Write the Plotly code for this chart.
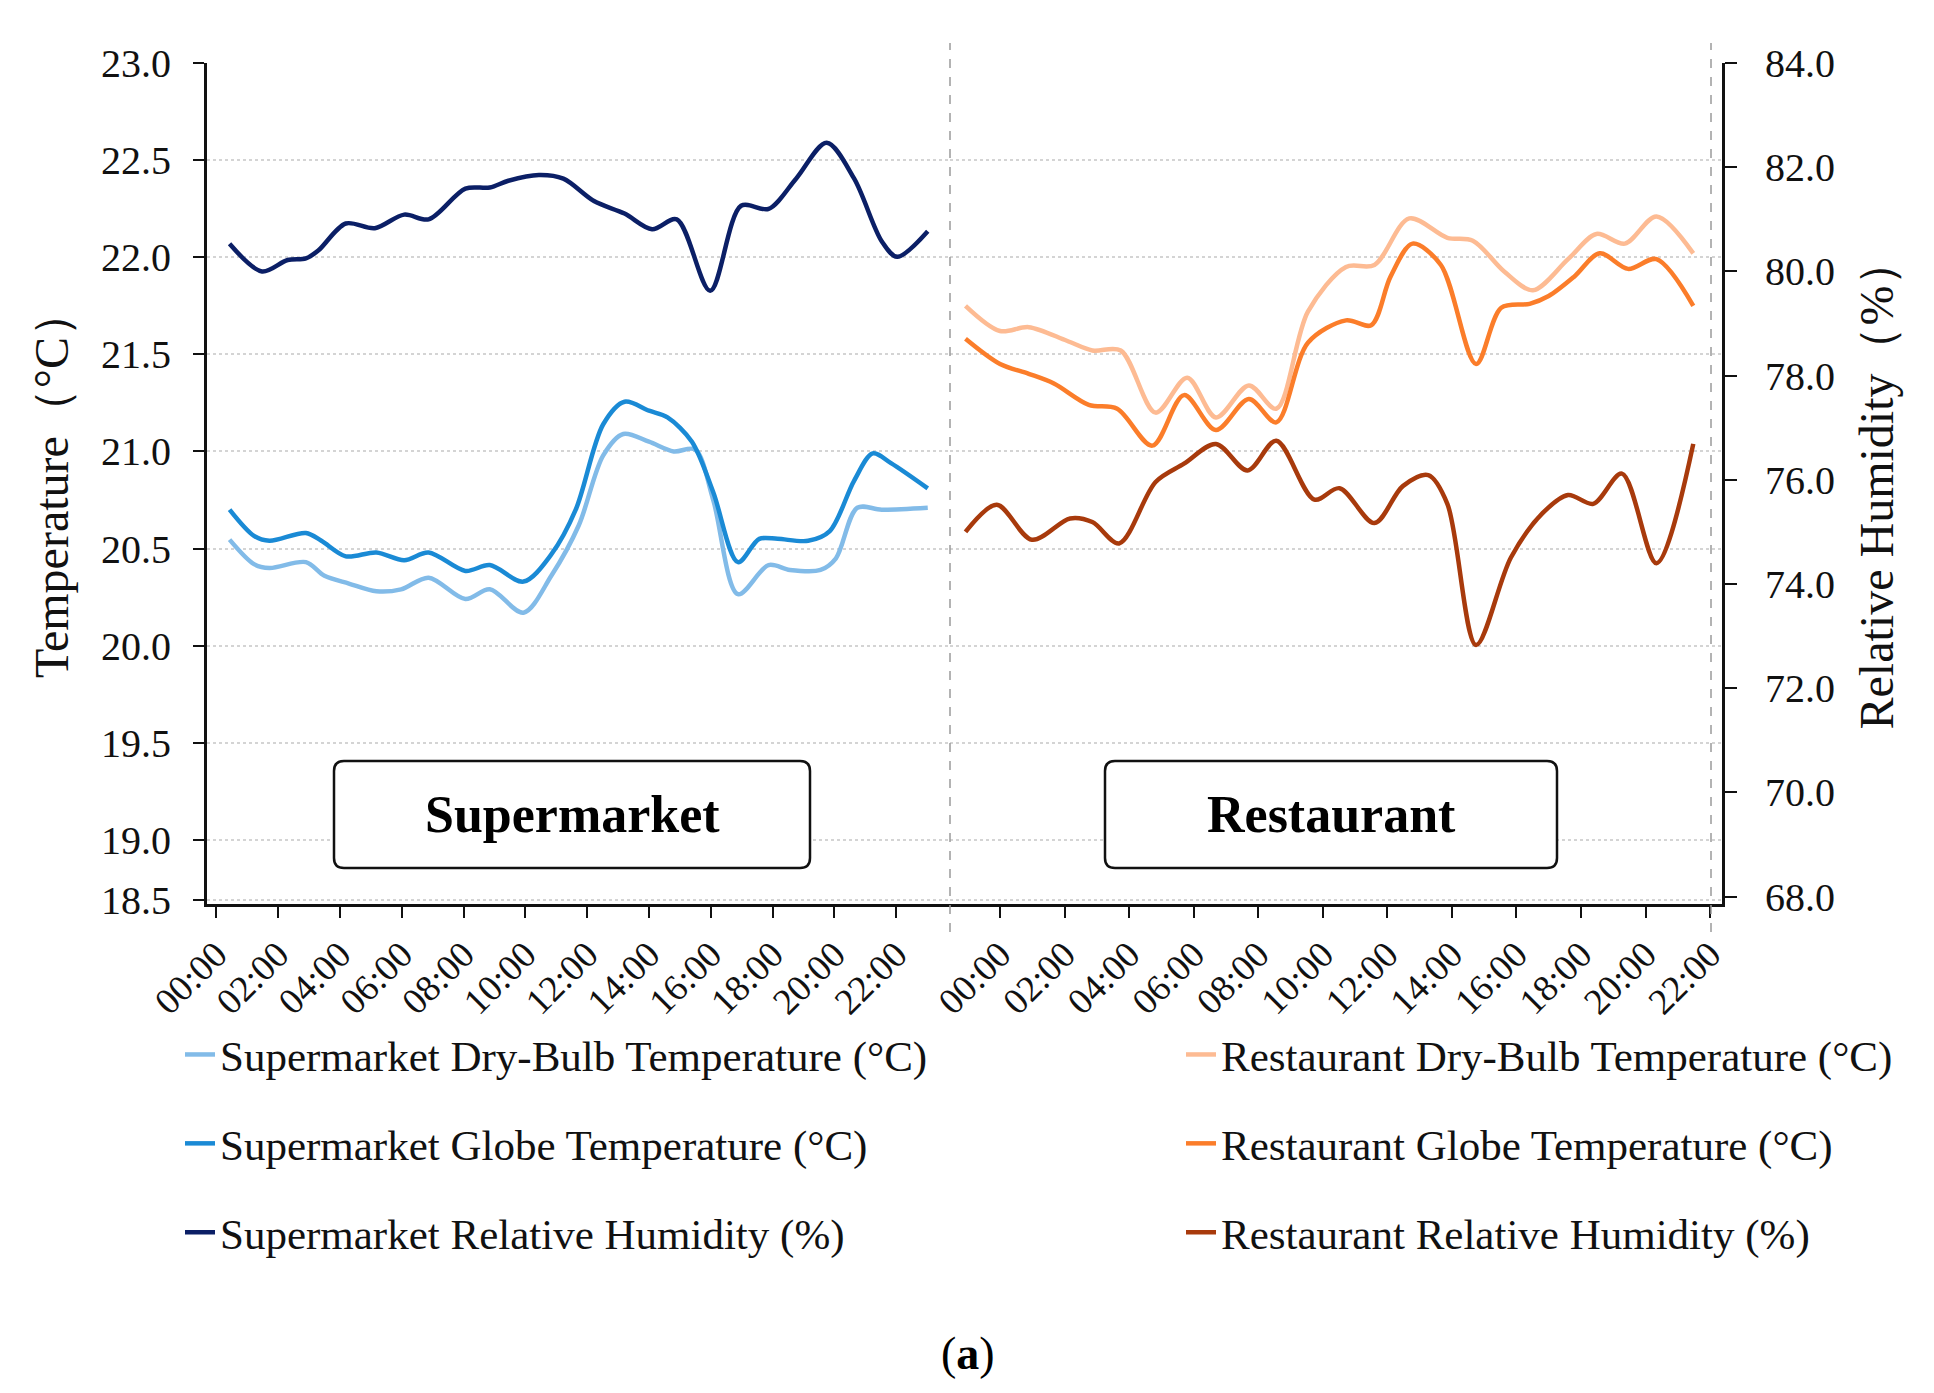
import plotly.graph_objects as go

# ---------------- data ----------------
hour_ticks = [0, 2, 4, 6, 8, 10, 12, 14, 16, 18, 20, 22]
hour_labels = ["00:00", "02:00", "04:00", "06:00", "08:00", "10:00",
               "12:00", "14:00", "16:00", "18:00", "20:00", "22:00"]

temp_tickvals = [18.69, 19.0, 19.5, 20.0, 20.5, 21.0, 21.5, 22.0, 22.5, 23.0]
temp_ticktext = ["18.5", "19.0", "19.5", "20.0", "20.5", "21.0", "21.5", "22.0", "22.5", "23.0"]
rh_tickvals = [68, 70, 72, 74, 76, 78, 80, 82, 84]
rh_ticktext = ["68.0", "70.0", "72.0", "74.0", "76.0", "78.0", "80.0", "82.0", "84.0"]

# Supermarket
sm_dry_hours = [0.43, 1.22, 1.72, 2.9, 3.5, 4.29, 5.18, 5.98, 6.87, 8.06, 8.85, 9.94, 10.84, 11.73,
                12.52, 13.17, 14.0, 14.8, 15.49, 16.08, 16.88, 17.87, 18.56, 19.55, 20.05, 20.74, 21.53, 23.02]
sm_dry = [20.546, 20.42, 20.40, 20.43, 20.36, 20.32, 20.28, 20.29, 20.35, 20.24, 20.29, 20.17, 20.36, 20.62,
          20.98, 21.09, 21.05, 21.0, 21.01, 20.75, 20.265, 20.415, 20.39, 20.39, 20.45, 20.71, 20.70, 20.71]

sm_glb_hours = [0.43, 1.22, 1.72, 2.9, 3.4, 4.19, 5.18, 6.08, 6.87, 8.06, 8.85, 9.94, 10.84, 11.63, 12.52,
                13.21, 14.0, 14.6, 15.39, 16.08, 16.88, 17.57, 18.16, 19.15, 19.85, 20.64, 21.24, 21.83, 23.02]
sm_glb = [20.70, 20.565, 20.54, 20.58, 20.54, 20.46, 20.48, 20.44, 20.48, 20.385, 20.415, 20.33, 20.47, 20.70,
          21.14, 21.256, 21.21, 21.175, 21.05, 20.79, 20.43, 20.55, 20.55, 20.54, 20.59, 20.85, 20.99, 20.94, 20.81]

sm_rh_hours = [0.43, 1.48, 2.31, 2.9, 3.3, 4.19, 5.13, 6.08, 6.87, 8.06, 8.85, 9.45, 10.44, 11.23, 12.22,
               13.21, 14.1, 14.9, 15.98, 16.98, 17.87, 18.76, 19.75, 20.64, 21.53, 22.03, 23.02]
sm_rh = [80.53, 80.0, 80.22, 80.25, 80.4, 80.92, 80.83, 81.09, 81.0, 81.59, 81.61, 81.74, 81.85, 81.78, 81.35,
         81.11, 80.81, 81.0, 79.63, 81.26, 81.2, 81.78, 82.47, 81.78, 80.58, 80.28, 80.77]

# Restaurant
r_dry_hours = [-1.07, 0.0, 0.89, 2.07, 2.86, 3.74, 4.82, 5.8, 6.69, 7.71, 8.56, 9.54, 10.72, 11.6, 12.68,
               13.86, 14.65, 15.63, 16.51, 17.6, 18.48, 19.36, 20.34, 21.48]
r_dry = [21.75, 21.62, 21.64, 21.57, 21.52, 21.52, 21.20, 21.38, 21.175, 21.34, 21.22, 21.72, 21.95, 21.96, 22.20,
         22.10, 22.085, 21.925, 21.83, 21.99, 22.12, 22.07, 22.21, 22.02]

r_glb_hours = [-1.07, 0.0, 0.89, 1.67, 2.75, 3.63, 4.72, 5.7, 6.69, 7.71, 8.56, 9.54, 10.72, 11.5, 12.1, 12.78,
               13.66, 14.75, 15.53, 16.41, 17.0, 17.79, 18.58, 19.46, 20.34, 21.48]
r_glb = [21.58, 21.45, 21.40, 21.35, 21.24, 21.22, 21.03, 21.29, 21.11, 21.27, 21.15, 21.56, 21.675, 21.65, 21.90,
         22.07, 21.96, 21.45, 21.74, 21.76, 21.80, 21.90, 22.02, 21.94, 21.99, 21.75]

r_rh_hours = [-1.07, -0.1, 0.99, 2.17, 2.86, 3.69, 4.82, 5.7, 6.69, 7.67, 8.56, 9.74, 10.52, 11.6, 12.48, 13.27,
              13.86, 14.75, 15.83, 16.81, 17.6, 18.38, 19.27, 20.34, 21.48]
r_rh = [75.0, 75.52, 74.85, 75.26, 75.19, 74.78, 75.96, 76.31, 76.69, 76.18, 76.75, 75.62, 75.84, 75.17, 75.88,
        76.09, 75.54, 72.83, 74.51, 75.36, 75.71, 75.54, 76.12, 74.40, 76.69]

# ---------------- styling ----------------
FONT = "Liberation Serif"
W, H = 1934, 1393
ML, MR, MT, MB = 207, 212, 63, 489
PW, PH = W - ML - MR, H - MT - MB


def paper_x(px):
    return (px - ML) / PW


def paper_y(py):
    return (H - MB - py) / PH


C_SM_DRY, C_SM_GLB, C_SM_RH = "#82bbe8", "#1a8ad5", "#0b1f66"
C_R_DRY, C_R_GLB, C_R_RH = "#fdbb93", "#fb7d2a", "#a83a0c"
LW = 4.5

fig = go.Figure()


def add(xs, ys, xa, ya, color, name, legend, group):
    fig.add_trace(go.Scatter(
        x=xs, y=ys, xaxis=xa, yaxis=ya, mode="lines", name=name,
        line=dict(color=color, width=LW, shape="spline", smoothing=0.9),
        legend=legend, legendgroup=group, hoverinfo="skip"))


add(sm_dry_hours, sm_dry, "x", "y", C_SM_DRY, "Supermarket Dry-Bulb Temperature (°C)", "legend", "g1")
add(sm_glb_hours, sm_glb, "x", "y", C_SM_GLB, "Supermarket Globe Temperature (°C)", "legend", "g2")
add(sm_rh_hours, sm_rh, "x", "y2", C_SM_RH, "Supermarket Relative Humidity (%)", "legend", "g3")
add(r_dry_hours, r_dry, "x2", "y", C_R_DRY, "Restaurant Dry-Bulb Temperature (°C)", "legend2", "g4")
add(r_glb_hours, r_glb, "x2", "y", C_R_GLB, "Restaurant Globe Temperature (°C)", "legend2", "g5")
add(r_rh_hours, r_rh, "x2", "y2", C_R_RH, "Restaurant Relative Humidity (%)", "legend2", "g6")

split = paper_x(950)
tickfont = dict(family=FONT, size=40, color="#111")
xtickfont = dict(family=FONT, size=37, color="#111")
titlefont = dict(family=FONT, size=48, color="#111")
legfont = dict(family=FONT, size=43, color="#111")

xcommon = dict(tickvals=hour_ticks, ticktext=hour_labels, tickangle=-45, ticks="outside",
               ticklen=11, tickwidth=2, tickcolor="#111", showgrid=False, zeroline=False,
               showline=True, linecolor="#111", linewidth=3, tickfont=xtickfont,
               anchor="y", automargin=False)

fig.update_layout(
    width=W, height=H,
    margin=dict(l=ML, r=MR, t=MT, b=MB),
    paper_bgcolor="white", plot_bgcolor="white",
    xaxis=dict(domain=[0, split], range=[-0.3, 23.74], **xcommon),
    xaxis2=dict(domain=[split, 1.0], range=[-1.55, 22.37], **xcommon),
    yaxis=dict(range=[18.67, 23.0], tickvals=temp_tickvals, ticktext=temp_ticktext,
               ticks="outside", ticklen=11, tickwidth=2, tickcolor="#111",
               ticklabelstandoff=14,
               showline=True, linecolor="#111", linewidth=3, zeroline=False,
               showgrid=True, gridcolor="#d4d4d4", gridwidth=1.5, griddash="dot",
               tickfont=tickfont, anchor="x", automargin=False,
               title=dict(text="Temperature（°C）", font=titlefont, standoff=18)),
    yaxis2=dict(range=[67.86, 84.0], tickvals=rh_tickvals, ticktext=rh_ticktext,
                overlaying="y", side="right", anchor="x2",
                ticks="outside", ticklen=12, tickwidth=2, tickcolor="#111",
                ticklabelstandoff=20,
                showline=True, linecolor="#111", linewidth=3, zeroline=False, showgrid=False,
                tickfont=tickfont, automargin=False,
                title=dict(text="Relative Humidity（%）", font=titlefont, standoff=26)),
    legend=dict(x=paper_x(180), y=paper_y(1020), xanchor="left", yanchor="top",
                orientation="v", font=legfont,
                tracegroupgap=30, bgcolor="rgba(0,0,0,0)", itemwidth=30),
    legend2=dict(x=paper_x(1181), y=paper_y(1020), xanchor="left", yanchor="top",
                 orientation="v", font=legfont,
                 tracegroupgap=30, bgcolor="rgba(0,0,0,0)", itemwidth=30),
)

# dashed separator lines
for px in (950, 1711):
    fig.add_shape(type="line", xref="paper", yref="paper",
                  x0=paper_x(px), x1=paper_x(px), y0=paper_y(932), y1=paper_y(43),
                  line=dict(color="#9a9a9a", width=1.5, dash="dash"), layer="above")


def rounded_box(x0p, y0p, x1p, y1p, r=10):
    x0, x1 = paper_x(x0p), paper_x(x1p)
    y0, y1 = paper_y(y1p), paper_y(y0p)
    rx, ry = r / PW, r / PH
    return (f"M {x0+rx},{y1} L {x1-rx},{y1} Q {x1},{y1} {x1},{y1-ry} "
            f"L {x1},{y0+ry} Q {x1},{y0} {x1-rx},{y0} "
            f"L {x0+rx},{y0} Q {x0},{y0} {x0},{y0+ry} "
            f"L {x0},{y1-ry} Q {x0},{y1} {x0+rx},{y1} Z")


boxes = [("Supermarket", 334, 761, 810, 868), ("Restaurant", 1105, 761, 1557, 868)]
for label, bx0, by0, bx1, by1 in boxes:
    fig.add_shape(type="path", xref="paper", yref="paper", path=rounded_box(bx0, by0, bx1, by1),
                  fillcolor="white", line=dict(color="#111", width=2.5), layer="above")
    fig.add_annotation(xref="paper", yref="paper", x=paper_x((bx0 + bx1) / 2), y=paper_y((by0 + by1) / 2),
                       text=f"<b>{label}</b>", showarrow=False,
                       font=dict(family=FONT, size=52, color="#000"), xanchor="center", yanchor="middle")

fig.add_annotation(xref="paper", yref="paper", x=paper_x(968), y=paper_y(1353),
                   text="(<b>a</b>)", showarrow=False, xanchor="center", yanchor="middle",
                   font=dict(family=FONT, size=46, color="#000"))

fig.write_html("out.html")
